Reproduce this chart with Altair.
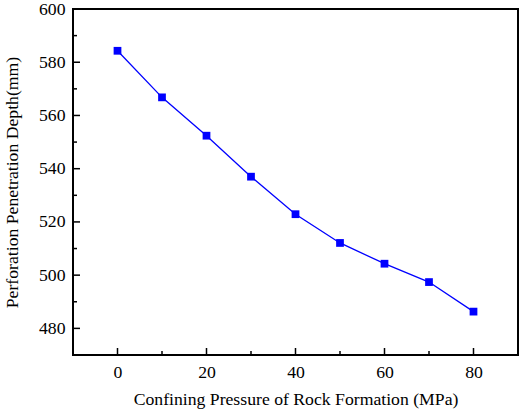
import altair as alt
import pandas as pd

# Confining pressure (MPa) and resulting perforation penetration depth (mm)
pressure = [0, 10, 20, 30, 40, 50, 60, 70, 80]
depth = [584.3, 566.8, 552.4, 537.0, 522.9, 512.1, 504.3, 497.4, 486.3]

x_major = [0, 20, 40, 60, 80]
x_minor = [10, 30, 50, 70]
y_major = [480, 500, 520, 540, 560, 580, 600]
y_minor = [490, 510, 530, 550, 570, 590]

W, H = 445, 346
FONT = "Liberation Serif"
BLUE = "#0000ff"
INK = "#000000"

df = pd.DataFrame({"p": pressure, "d": depth})

xs = alt.Scale(domain=[-10, 90], nice=False)
ys = alt.Scale(domain=[470, 600], nice=False)

x_axis = alt.Axis(values=x_major, labelPadding=8, titlePadding=10,
                  title="Confining Pressure of Rock Formation (MPa)")
y_axis = alt.Axis(values=y_major, labelPadding=8, titlePadding=17,
                  title="Perforation Penetration Depth(mm)")

line = alt.Chart(df).mark_line(color=BLUE, strokeWidth=1.3).encode(
    x=alt.X("p:Q", scale=xs, axis=x_axis),
    y=alt.Y("d:Q", scale=ys, axis=y_axis),
)
pts = alt.Chart(df).mark_square(color=BLUE, opacity=1, size=60).encode(
    x=alt.X("p:Q", scale=xs), y=alt.Y("d:Q", scale=ys)
)

# inward-pointing ticks along the bottom and left edges
def xticks(vals, length):
    d = pd.DataFrame({"v": vals})
    return alt.Chart(d).mark_tick(
        orient="vertical", size=length, thickness=1.5, color=INK, opacity=1
    ).encode(x=alt.X("v:Q", scale=xs), y=alt.value(H - length / 2))

def yticks(vals, length):
    d = pd.DataFrame({"v": vals})
    return alt.Chart(d).mark_tick(
        orient="horizontal", size=length, thickness=1.5, color=INK, opacity=1
    ).encode(y=alt.Y("v:Q", scale=ys), x=alt.value(length / 2))

# plot-area frame
box = alt.Chart(df).mark_rect(
    fill=None, fillOpacity=0, stroke=INK, strokeWidth=2
).encode(x=alt.value(0), x2=alt.value(W), y=alt.value(0), y2=alt.value(H))

chart = alt.layer(
    line, pts,
    xticks(x_major, 7), xticks(x_minor, 4),
    yticks(y_major, 7), yticks(y_minor, 4),
    box,
).properties(
    width=W, height=H,
    autosize=alt.AutoSizeParams(type="none"),
    padding={"left": 73, "top": 9, "right": 2, "bottom": 55},
).configure(
    background="white",
    font=FONT,
    view=alt.ViewConfig(stroke=None),
    axis=alt.AxisConfig(
        ticks=False, grid=False, domain=False,
        labelFont=FONT, labelFontSize=17.7, labelColor=INK,
        titleFont=FONT, titleFontSize=17.7, titleFontWeight="normal",
        titleColor=INK,
    ),
)

chart.save("out.html", embed_options={"renderer": "svg", "actions": False})
